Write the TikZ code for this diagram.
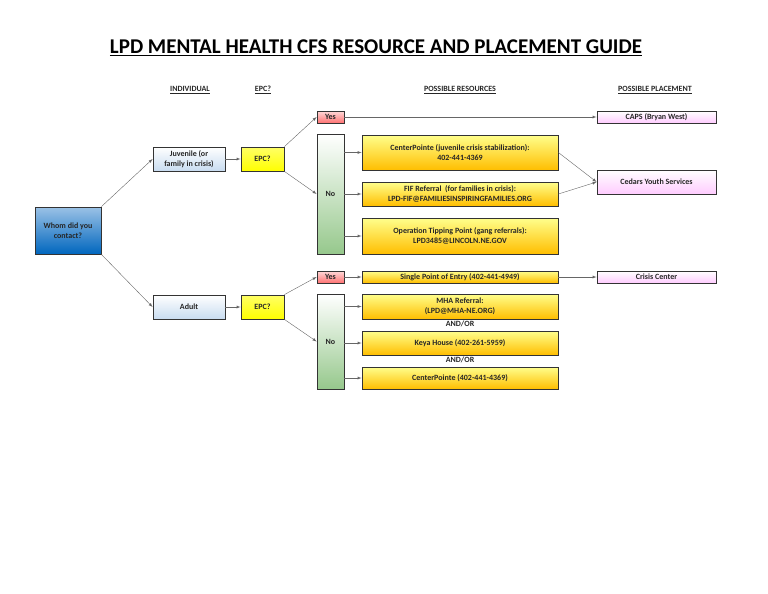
\documentclass[tikz,border=0pt]{standalone}
\usepackage{fontspec}
\setmainfont{Carlito}
\usetikzlibrary{positioning}
\definecolor{ltblue}{RGB}{155,194,230}
\definecolor{dkblue}{RGB}{0,102,190}
\definecolor{paleblue}{RGB}{200,220,240}
\definecolor{nogreen}{RGB}{150,200,140}
\definecolor{orng}{RGB}{255,190,0}
\tikzset{
  box/.style={draw=black!80, thick, inner sep=1pt, align=center, font=\bfseries\fontsize{8}{10.5}\selectfont, text=black!85},
  whom/.style={box, top color=ltblue, bottom color=dkblue},
  who/.style={box, top color=white, bottom color=paleblue},
  epc/.style={box, top color=yellow!60, bottom color=yellow},
  yes/.style={box, top color=red!15, bottom color=red!55},
  no/.style={box, top color=white, bottom color=nogreen},
  res/.style={box, top color=yellow!45, bottom color=orng},
  place/.style={box, top color=white, bottom color=magenta!20},
  head/.style={font=\bfseries\fontsize{8}{10}\selectfont, text=black!85},
  arr/.style={->, >=latex, draw=black!60}
}
\begin{document}
\begin{tikzpicture}[x=1pt,y=-1pt]
\useasboundingbox (0,0) rectangle (768,594);

\node[font=\bfseries\fontsize{21}{24}\selectfont] (title) at (376,48) {\underline{LPD MENTAL HEALTH CFS RESOURCE AND PLACEMENT GUIDE}};
\node[head] (h1) at (190,90) {\underline{INDIVIDUAL}};
\node[head] (h2) at (263,90) {\underline{EPC?}};
\node[head] (h3) at (460,90) {\underline{POSSIBLE RESOURCES}};
\node[head] (h4) at (655,90) {\underline{POSSIBLE PLACEMENT}};

\node[whom, minimum width=66, minimum height=47] (whom) at (68,230.5) {Whom did you\\contact?};
\node[who, minimum width=72, minimum height=24] (juv) at (189,159) {Juvenile (or\\family in crisis)};
\node[who, minimum width=72, minimum height=24] (adult) at (189,307) {Adult};
\node[epc, minimum width=43, minimum height=24] (epc1) at (262.5,159) {EPC?};
\node[epc, minimum width=43, minimum height=24] (epc2) at (262.5,307) {EPC?};

\node[yes, minimum width=27, minimum height=12] (yes1) at (330.5,117) {Yes};
\node[no, minimum width=27, minimum height=120] (no1) at (330.5,194) {No};
\node[yes, minimum width=27, minimum height=12] (yes2) at (330.5,277) {Yes};
\node[no, minimum width=27, minimum height=95] (no2) at (330.5,341.5) {No};

\node[res, minimum width=196, minimum height=35] (cp) at (460,152.5) {CenterPointe (juvenile crisis stabilization):\\402-441-4369};
\node[res, minimum width=196, minimum height=24] (fif) at (460,194) {FIF Referral~ (for families in crisis):\\LPD-FIF@FAMILIESINSPIRINGFAMILIES.ORG};
\node[res, minimum width=196, minimum height=36] (otp) at (460,236) {Operation Tipping Point (gang referrals):\\LPD3485@LINCOLN.NE.GOV};
\node[res, minimum width=196, minimum height=12] (spe) at (460,277) {Single Point of Entry (402-441-4949)};
\node[res, minimum width=196, minimum height=25] (mha) at (460,306.5) {MHA Referral:\\(LPD@MHA-NE.ORG)};
\node[head] (or1) at (460,323.5) {AND/OR};
\node[res, minimum width=196, minimum height=24] (keya) at (460,343) {Keya House (402-261-5959)};
\node[head] (or2) at (460,360) {AND/OR};
\node[res, minimum width=196, minimum height=22] (cp2) at (460,378) {CenterPointe (402-441-4369)};

\node[place, minimum width=119, minimum height=12] (caps) at (656.5,117) {CAPS (Bryan West)};
\node[place, minimum width=119, minimum height=24] (cedars) at (656.5,182) {Cedars Youth Services};
\node[place, minimum width=119, minimum height=12] (crisis) at (656.5,277) {Crisis Center};

% connectors
\draw[arr] (whom.north east) -- (juv.west);
\draw[arr] (whom.south east) -- (adult.west);
\draw[arr] (juv) -- (epc1);
\draw[arr] (adult) -- (epc2);
\draw[arr] (epc1.north east) -- (yes1.west);
\draw[arr] (epc1.south east) -- (no1.west);
\draw[arr] (epc2.north east) -- (yes2.west);
\draw[arr] (epc2.south east) -- (no2.west);
\draw[arr] (yes1) -- (caps);
\draw[arr] (yes2) -- (spe);
\draw[arr] (spe) -- (crisis);
\foreach \r in {cp,fif,otp}
  \draw[arr] (no1.east |- \r.west) -- (\r.west);
\foreach \r in {mha,keya,cp2}
  \draw[arr] (no2.east |- \r.west) -- (\r.west);
\draw[arr] (cp.east) -- (cedars.west);
\draw[arr] (fif.east) -- (cedars.west);
\end{tikzpicture}
\end{document}
